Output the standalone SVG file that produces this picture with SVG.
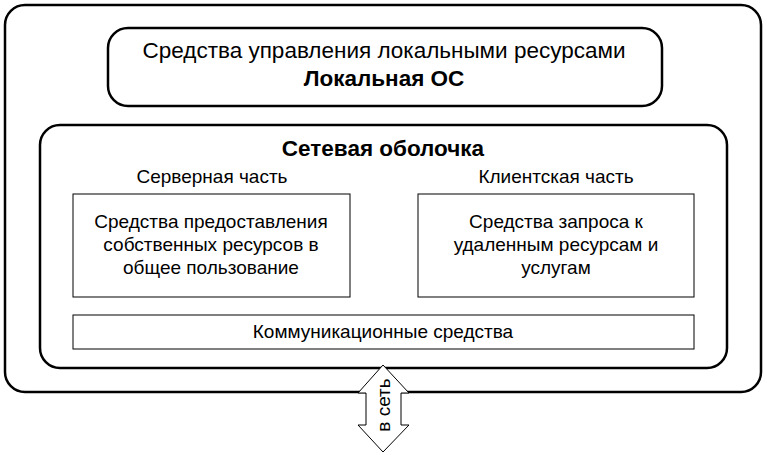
<svg xmlns="http://www.w3.org/2000/svg" width="767" height="455" viewBox="0 0 767 455">
<style>
.b{fill:#fff;stroke:#000;stroke-width:2.5}
.s{fill:#fff;stroke:#000;stroke-width:1}
text{font-family:"Liberation Sans",Arial,sans-serif;font-size:19px;text-anchor:middle;fill:#000}
.t{font-size:22.5px}
.bold{font-weight:bold}
</style>
<rect width="767" height="455" fill="#fff"/>
<g id="outer"><rect class="b" x="5" y="5" width="756" height="387" rx="20"/></g>
<g id="local"><rect class="b" x="108" y="28" width="554" height="78" rx="20"/>
<text class="t" x="384" y="58">Средства управления локальными ресурсами</text>
<text class="t bold" x="384" y="86">Локальная ОС</text></g>
<g id="shell"><rect class="b" x="40" y="125" width="687" height="243" rx="20"/>
<text class="t bold" x="383" y="156">Сетевая оболочка</text>
<text x="212" y="183">Серверная часть</text>
<text x="556" y="183">Клиентская часть</text></g>
<g id="server"><rect class="s" x="73" y="194" width="277" height="103"/>
<text x="211" y="228">Средства предоставления</text>
<text x="211" y="251">собственных ресурсов в</text>
<text x="211" y="274">общее пользование</text></g>
<g id="client"><rect class="s" x="418" y="194" width="276" height="103"/>
<text x="556" y="228">Средства запроса к</text>
<text x="556" y="251">удаленным ресурсам и</text>
<text x="556" y="274">услугам</text></g>
<g id="comm"><rect class="s" x="73" y="315" width="621" height="34"/>
<text x="383" y="338">Коммуникационные средства</text></g>
<g id="connectors">
<path class="s" d="M383 365 L409 393 L401 393 L401 425 L409 425 L383 452 L358 425 L366 425 L366 393 L358 393 Z"/>
<text transform="translate(390 405) rotate(-90)">в сеть</text>
</g>
</svg>
